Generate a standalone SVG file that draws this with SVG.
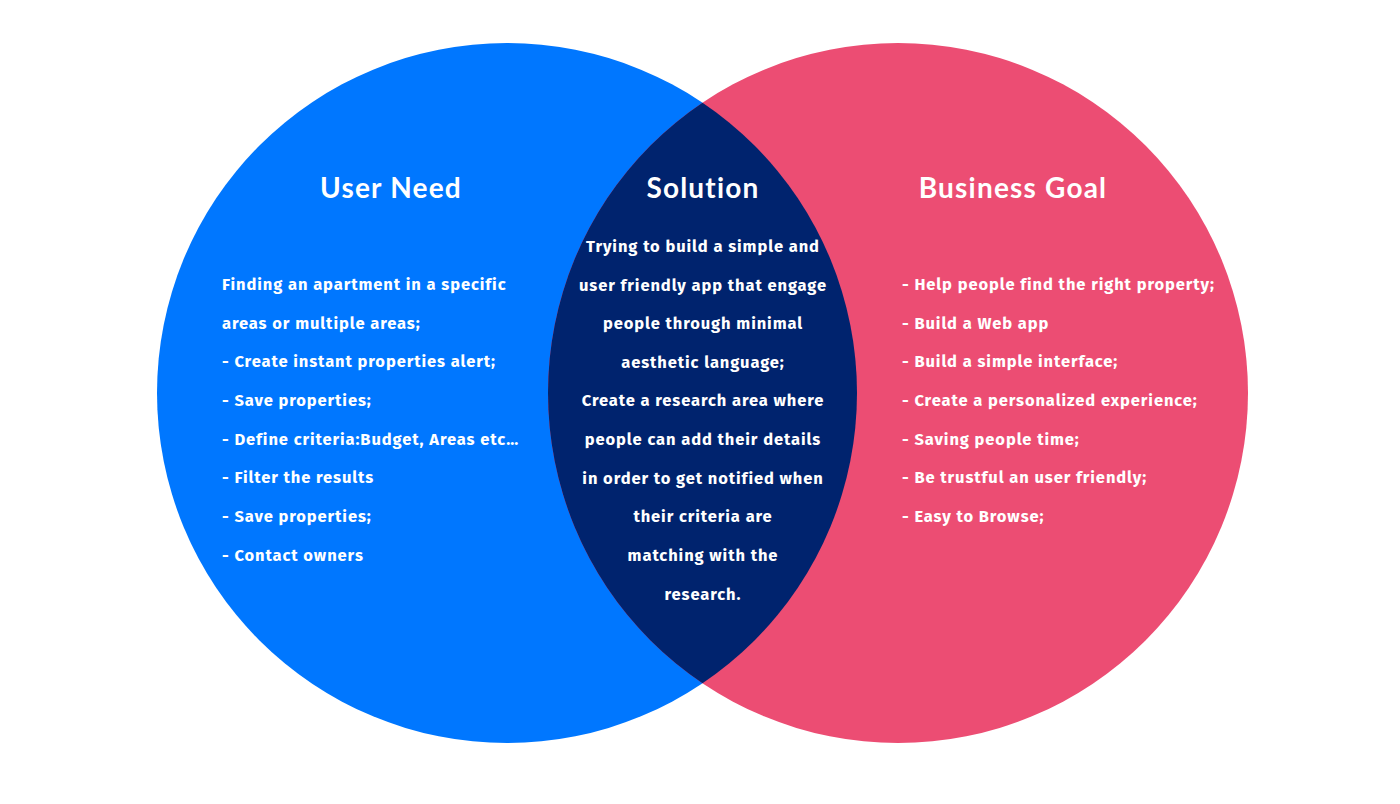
<svg xmlns="http://www.w3.org/2000/svg" width="1400" height="804" viewBox="0 0 1400 804">
<style>
.t{font-family:Lato,"Noto Sans",sans-serif;font-weight:bold;font-size:28px;fill:#fff;text-anchor:middle;letter-spacing:1.2px}
.b{font-family:"Fira Sans","Open Sans","Noto Sans",sans-serif;font-weight:bold;font-size:16.5px;fill:#fff;letter-spacing:0.9px}
.c{text-anchor:middle}
</style>
<defs>
<clipPath id="clipL"><circle cx="507" cy="393" r="350"/></clipPath>
</defs>
<rect width="1400" height="804" fill="#fff"/>
<g id="user-need">
<circle cx="507" cy="393" r="350" fill="#0077FF"/>
</g>
<g id="business-goal">
<circle cx="898" cy="393" r="350" fill="#EC4D73"/>
</g>
<g id="solution">
<circle cx="898" cy="393" r="350" fill="#00236E" clip-path="url(#clipL)"/>
</g>
<g id="user-need-text">
<text class="t" x="391" y="198">User Need</text>
<text class="b" x="222" y="290">Finding an apartment in a specific</text>
<text class="b" x="222" y="329">areas or multiple areas;</text>
<text class="b" x="222" y="367">- Create instant properties alert;</text>
<text class="b" x="222" y="406">- Save properties;</text>
<text class="b" x="222" y="445">- Define criteria:Budget, Areas etc…</text>
<text class="b" x="222" y="483">- Filter the results</text>
<text class="b" x="222" y="522">- Save properties;</text>
<text class="b" x="222" y="561">- Contact owners</text>
</g>
<g id="solution-text">
<text class="t" x="703" y="198">Solution</text>
<text class="b c" x="703" y="252">Trying to build a simple and</text>
<text class="b c" x="703" y="291">user friendly app that engage</text>
<text class="b c" x="703" y="329">people through minimal</text>
<text class="b c" x="703" y="368">aesthetic language;</text>
<text class="b c" x="703" y="406">Create a research area where</text>
<text class="b c" x="703" y="445">people can add their details</text>
<text class="b c" x="703" y="484">in order to get notified when</text>
<text class="b c" x="703" y="522">their criteria are</text>
<text class="b c" x="703" y="561">matching with the</text>
<text class="b c" x="703" y="600">research.</text>
</g>
<g id="business-goal-text">
<text class="t" x="1013" y="198">Business Goal</text>
<text class="b" x="902" y="290">- Help people find the right property;</text>
<text class="b" x="902" y="329">- Build a Web app</text>
<text class="b" x="902" y="367">- Build a simple interface;</text>
<text class="b" x="902" y="406">- Create a personalized experience;</text>
<text class="b" x="902" y="445">- Saving people time;</text>
<text class="b" x="902" y="483">- Be trustful an user friendly;</text>
<text class="b" x="902" y="522">- Easy to Browse;</text>
</g>
<g id="connectors"></g>
</svg>
